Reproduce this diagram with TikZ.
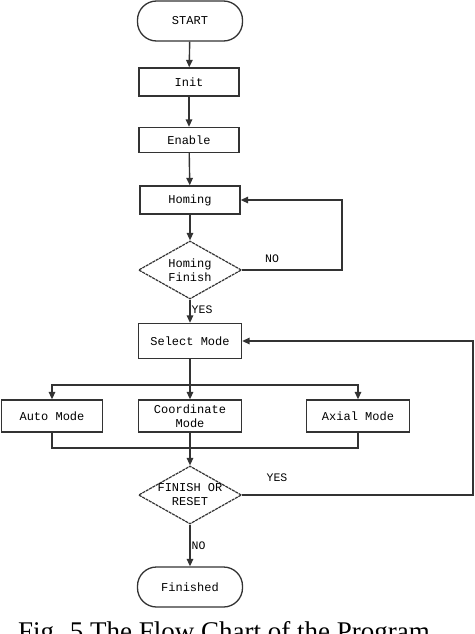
\documentclass[tikz,border=0pt]{standalone}
\usepackage{fontspec}
\setmainfont{Liberation Serif}
\setmonofont{Liberation Mono}
\usetikzlibrary{arrows.meta,shapes.geometric}

\tikzset{
    flowline/.style = {draw = black!80, line width = 1.4pt},
    flowarrow/.style = {flowline, -{Triangle[length = 7.5pt, width = 6.5pt]}},
    procbox/.style = {draw = black!80, line width = 1.3pt, rectangle, minimum width = 100pt, minimum height = 28pt, inner sep = 1pt, font = \ttfamily\fontsize{12}{12}\selectfont, align = center},
    termbox/.style = {procbox, minimum width = 105pt, minimum height = 40pt, rounded corners = 19pt},
    decision/.style = {draw = black!80, line width = 1.2pt, dashed, dash pattern = on 3pt off 0.8pt, diamond, minimum width = 103pt, minimum height = 58pt, inner sep = 0pt},
    decisiontext/.style = {font = \ttfamily\fontsize{12}{14}\selectfont, align = center},
    flowlabel/.style = {font = \ttfamily\fontsize{11.5}{12}\selectfont, inner sep = 1pt}
}

\begin{document}
\begin{tikzpicture}[x = 1pt, y = -1pt]
    \useasboundingbox (0,0) rectangle (474,634);

    \node[termbox] (start) at (190,21) {START};
    \node[procbox] (init) at (189,82) {Init};
    \node[procbox, minimum height = 25pt] (enable) at (189,140) {Enable};
    \node[procbox] (homing) at (190,200) {Homing};
    \node[decision, label = {[decisiontext]center:Homing\\Finish}] (homfin) at (190,270) {};
    \node[procbox, minimum width = 103pt, minimum height = 35pt] (select) at (190,341) {Select Mode};
    \node[procbox, minimum width = 101pt, minimum height = 32pt] (auto) at (52,416) {Auto Mode};
    \node[procbox, minimum width = 103pt, minimum height = 32pt, font = \ttfamily\fontsize{12}{14}\selectfont] (coord) at (190,416) {Coordinate\\Mode};
    \node[procbox, minimum width = 103pt, minimum height = 32pt] (axial) at (358,416) {Axial Mode};
    \node[decision, label = {[decisiontext]center:FINISH OR\\RESET}] (finreset) at (190,495) {};
    \node[termbox] (finished) at (190,587) {Finished};

    \coordinate (homloop) at (342,200);
    \coordinate (branch) at (190,385);
    \coordinate (mergeL) at (52,448);
    \coordinate (mergeR) at (358,448);
    \coordinate (selloop) at (473,341);

    % main line
    \draw[flowarrow] (start) -- (init);
    \draw[flowarrow] (init) -- (enable);
    \draw[flowarrow] (enable) -- (homing);
    \draw[flowarrow] (homing) -- (homfin);
    \draw[flowarrow] (homfin) -- (select) node[flowlabel, pos = 0.45, right] {YES};
    \draw[flowarrow] (homfin.east) -| (homloop) -- (homing.east);
    \node[flowlabel] (homno) at (272,259) {NO};

    % modes
    \draw[flowarrow] (select) -- (coord);
    \draw[flowarrow] (branch) -| (auto.north);
    \draw[flowarrow] (branch) -| (axial.north);
    \draw[flowline] (auto.south) |- (mergeL) -- (mergeR) -- (axial.south);
    \draw[flowarrow] (coord) -- (finreset);

    % end
    \draw[flowarrow] (finreset.east) -| (selloop) -- (select.east);
    \node[flowlabel] (finyes) at (277,478) {YES};
    \draw[flowarrow] (finreset) -- (finished) node[flowlabel, midway, right] {NO};

    \node[anchor = base west, inner sep = 0pt, font = \fontsize{27}{27}\selectfont] (caption) at (18,640) {Fig. 5 The Flow Chart of the Program};
\end{tikzpicture}
\end{document}
